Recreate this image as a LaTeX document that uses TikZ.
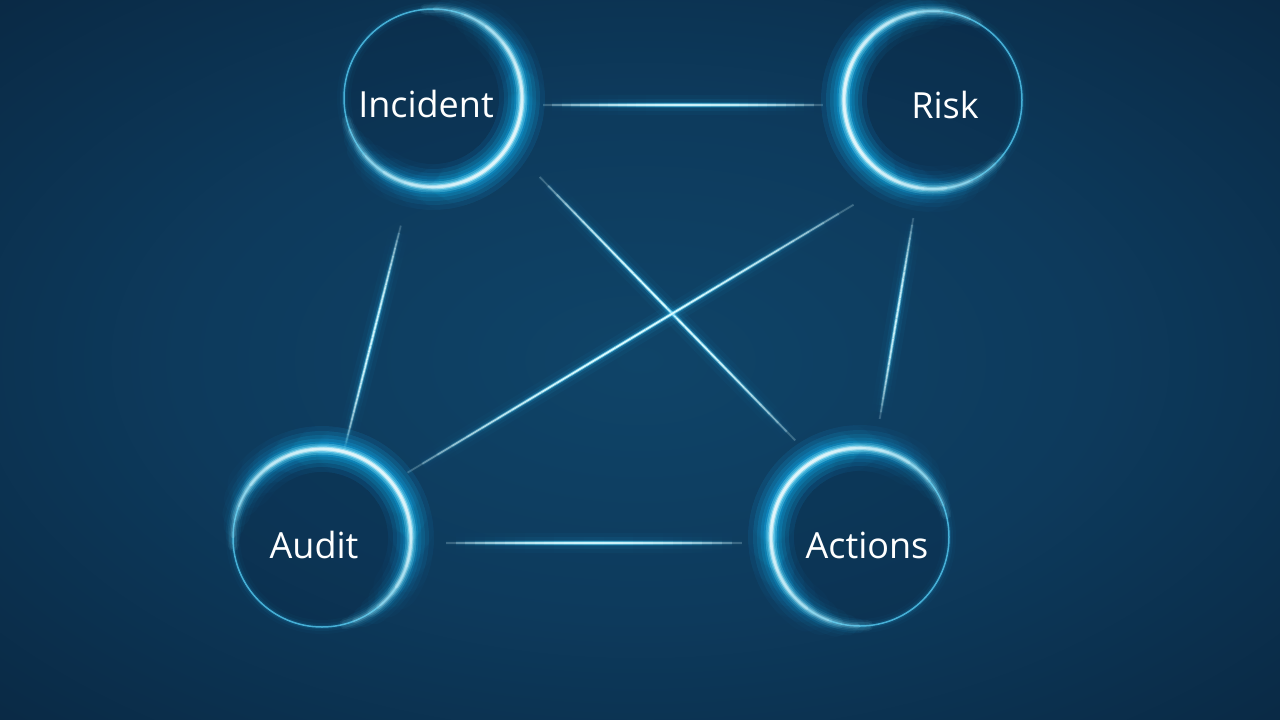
\documentclass[tikz,border=0pt]{standalone}
\usepackage{fontspec}
\setmainfont{Open Sans}
\usetikzlibrary{calc}
\definecolor{cglow}{HTML}{1FB2EE}
\definecolor{cbright}{HTML}{7FE6FF}
\definecolor{cwhite}{HTML}{DDFBFF}
\definecolor{ringc}{HTML}{55C9F0}
\definecolor{orbfill}{HTML}{0A2642}
\definecolor{bgA}{HTML}{0F4468}
\definecolor{bgB}{HTML}{0D3A5C}
\definecolor{bgC}{HTML}{0A2B47}
\definecolor{bgD}{HTML}{081D33}
\definecolor{bgE}{HTML}{06131F}
\pgfdeclareradialshading{bgshade}{\pgfpoint{0bp}{0bp}}{color(0bp)=(bgA); color(18bp)=(bgB); color(34bp)=(bgC); color(50bp)=(bgD); color(68bp)=(bgE); color(75bp)=(bgE)}
\tikzset{
  orbnode/.style={circle, minimum size=178pt, inner sep=0pt},
  lbl/.style={text=white, font=\fontsize{36}{42}\selectfont, inner sep=0pt, anchor=base},
}
\newcommand\beam[5]{% #5 = brightness factor
  \foreach \k in {0,...,29}{%
    \pgfmathsetmacro\ta{#3+(#4-#3)*\k/30}%
    \pgfmathsetmacro\tb{#3+(#4-#3)*(\k+1)/30}%
    \pgfmathsetmacro\ff{sin(180*(\k+0.5)/30)}%
    \pgfmathsetmacro\oa{0.05*#5*\ff}%
    \pgfmathsetmacro\ob{0.09*#5*\ff}%
    \pgfmathsetmacro\oc{0.22*#5*\ff}%
    \pgfmathsetmacro\od{min(1,0.6*#5*\ff)}%
    \pgfmathsetmacro\oe{min(1,#5*(\ff^0.5))}%
    \draw[cglow, line width=20pt, opacity=\oa] ($(#1)!\ta!(#2)$) -- ($(#1)!\tb!(#2)$);
    \draw[cglow, line width=12pt, opacity=\ob] ($(#1)!\ta!(#2)$) -- ($(#1)!\tb!(#2)$);
    \draw[cglow, line width=6.5pt, opacity=\oc] ($(#1)!\ta!(#2)$) -- ($(#1)!\tb!(#2)$);
    \draw[cbright, line width=3.4pt, opacity=\od] ($(#1)!\ta!(#2)$) -- ($(#1)!\tb!(#2)$);
    \draw[cwhite, line width=1.7pt, opacity=\oe] ($(#1)!\ta!(#2)$) -- ($(#1)!\tb!(#2)$);
  }}
\newcommand\orb[2]{%
  \begin{scope}[shift={(#1.center)}]
    \fill[orbfill, opacity=0.25] (0,0) circle[radius=89];
    \foreach \ww/\oo in {14/0.03, 8/0.06, 4/0.12}{%
      \draw[cglow, line width=\ww pt, opacity=\oo] (0,0) circle[radius=89];
    }
    \draw[ringc, line width=1.5pt, opacity=0.8] (0,0) circle[radius=89];
    \foreach \ww/\cc/\oo/\sc in {46/cglow/0.025/0.68, 36/cglow/0.03/0.76, 28/cglow/0.035/0.84, 21/cglow/0.045/0.9, 15/cglow/0.055/0.95, 11/cbright/0.07/1, 7.5/cbright/0.09/1, 4.8/cwhite/0.13/0.95, 2.6/white/0.18/0.8}{%
      \foreach \j in {0,...,5}{%
        \pgfmathsetmacro\hs{(130-19*\j)*\sc}%
        \pgfmathsetmacro\sa{#2-\hs}\pgfmathsetmacro\sb{#2+\hs}%
        \draw[\cc, line width=\ww pt, line cap=round, opacity=\oo] (\sa:89) arc[start angle=\sa, end angle=\sb, radius=89];
      }%
    }
  \end{scope}}
\begin{document}
\begin{tikzpicture}[x=1pt, y=-1pt]
  \useasboundingbox (0,0) rectangle (1280,720);
  \shade[shading=bgshade] (0,0) rectangle (1280,720);
  % nodes
  \node[orbnode] (inc) at (433,98) {};
  \node[orbnode] (ris) at (933,100) {};
  \node[orbnode] (aud) at (322,538) {};
  \node[orbnode] (act) at (860,537) {};
  % offset anchors for the beams
  \coordinate (incR) at ($(inc.center)+(0,7)$);
  \coordinate (risR) at ($(ris.center)+(0,5)$);
  \coordinate (audR) at ($(aud.center)+(0,5)$);
  \coordinate (actR) at ($(act.center)+(0,6)$);
  \coordinate (incD) at ($(inc.center)+(30,0)$);
  \coordinate (actD) at ($(act.center)+(29,0)$);
  \coordinate (risD) at ($(ris.center)+(0,57)$);
  \coordinate (audD) at ($(aud.center)+(0,-14)$);
  % beams
  \beam{incR}{risR}{0.22}{0.78}{0.9}
  \beam{audR}{actR}{0.23}{0.78}{0.9}
  \beam{inc.center}{aud.center}{0.29}{0.80}{0.9}
  \beam{ris.center}{act.center}{0.27}{0.73}{0.85}
  \beam{incD}{actD}{0.18}{0.78}{1}
  \beam{risD}{audD}{0.13}{0.86}{1}
  % orbs
  \orb{inc}{35}
  \orb{ris}{170}
  \orb{aud}{-55}
  \orb{act}{215}
  % labels
  \node[lbl] (incl) at (426,117) {Incident};
  \node[lbl] (risl) at (945,118) {Risk};
  \node[lbl] (audl) at (314,558) {Audit};
  \node[lbl] (actl) at (867,558) {Actions};
\end{tikzpicture}
\end{document}
